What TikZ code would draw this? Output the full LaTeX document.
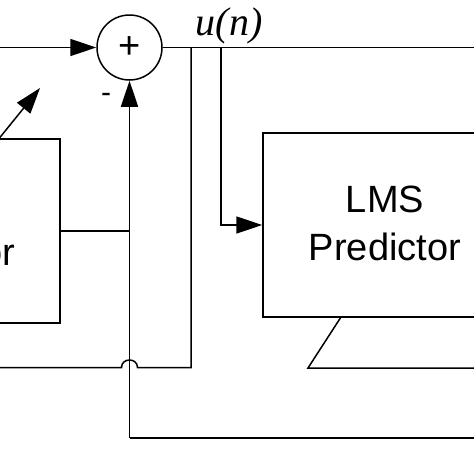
\documentclass[tikz,border=0pt]{standalone}
\usepackage{fontspec}
\setmainfont{Liberation Sans}
\newfontfamily\userif{Liberation Serif}
\usetikzlibrary{arrows.meta}
\begin{document}
\begin{tikzpicture}[x=1pt,y=-1pt,line width=1.5pt,
  arr/.style={-{Triangle[length=26pt,width=17pt]}},
  blockbox/.style={draw,rectangle,minimum width=242pt,minimum height=184pt,inner sep=0pt},
  sumnode/.style={draw,circle,minimum size=65pt,inner sep=0pt},
  bigtext/.style={font=\fontsize{38}{48}\selectfont,align=center,inner sep=0pt}]
\useasboundingbox (0,0) rectangle (474,474);
\clip (0,0) rectangle (474,474);
% blocks
\node[sumnode] (sum) at (129.5,47.5) {\fontsize{38}{38}\selectfont\raisebox{-5pt}{+}};
\node[blockbox] (lbox) at (-182+121,231) {};
\node[bigtext,anchor=base east] (ltext) at (16,265) {Predictor};
\node[blockbox] (rbox) at (263+121,225) {};
\node[bigtext] (rtext) at (385,223) {LMS\\Predictor};
% labels
\node[font=\userif\itshape\fontsize{40}{40}\selectfont,anchor=base,inner sep=0pt] (ulab) at (229,35) {u(n)};
\node[font=\fontsize{30}{30}\selectfont,inner sep=0pt] (minus) at (106,98) {-};
% coordinates
\coordinate (in) at (-5,47.5);
\coordinate (out) at (480,47.5);
\coordinate (b1) at (191,47.5);
\coordinate (b2) at (221,47.5);
\coordinate (fb) at (129.5,438);
\coordinate (fbr) at (480,438);
\coordinate (adjs) at (-20,162);
\coordinate (adje) at (40,88);
\coordinate (st1) at (341,317);
\coordinate (st2) at (308,368);
\coordinate (st3) at (480,368);
\coordinate (loopL) at (-5,367.5);
% connectors
\draw[arr] (in) -- (sum.west);
\draw (sum.east) -- (out);
\draw[arr] (b2) |- (rbox.west);
\draw (b1) -- (191,367.5) -- (137.5,367.5) .. controls (137.5,357.5) and (121.5,357.5) .. (121.5,367.5) -- (loopL);
\draw (lbox.east) -- (lbox.east -| fb);
\draw[arr] (fb) -- (sum.south);
\draw (fb) -- (fbr);
\draw[arr] (adjs) -- (adje);
\draw (st1) -- (st2) -- (st3);
\end{tikzpicture}
\end{document}
